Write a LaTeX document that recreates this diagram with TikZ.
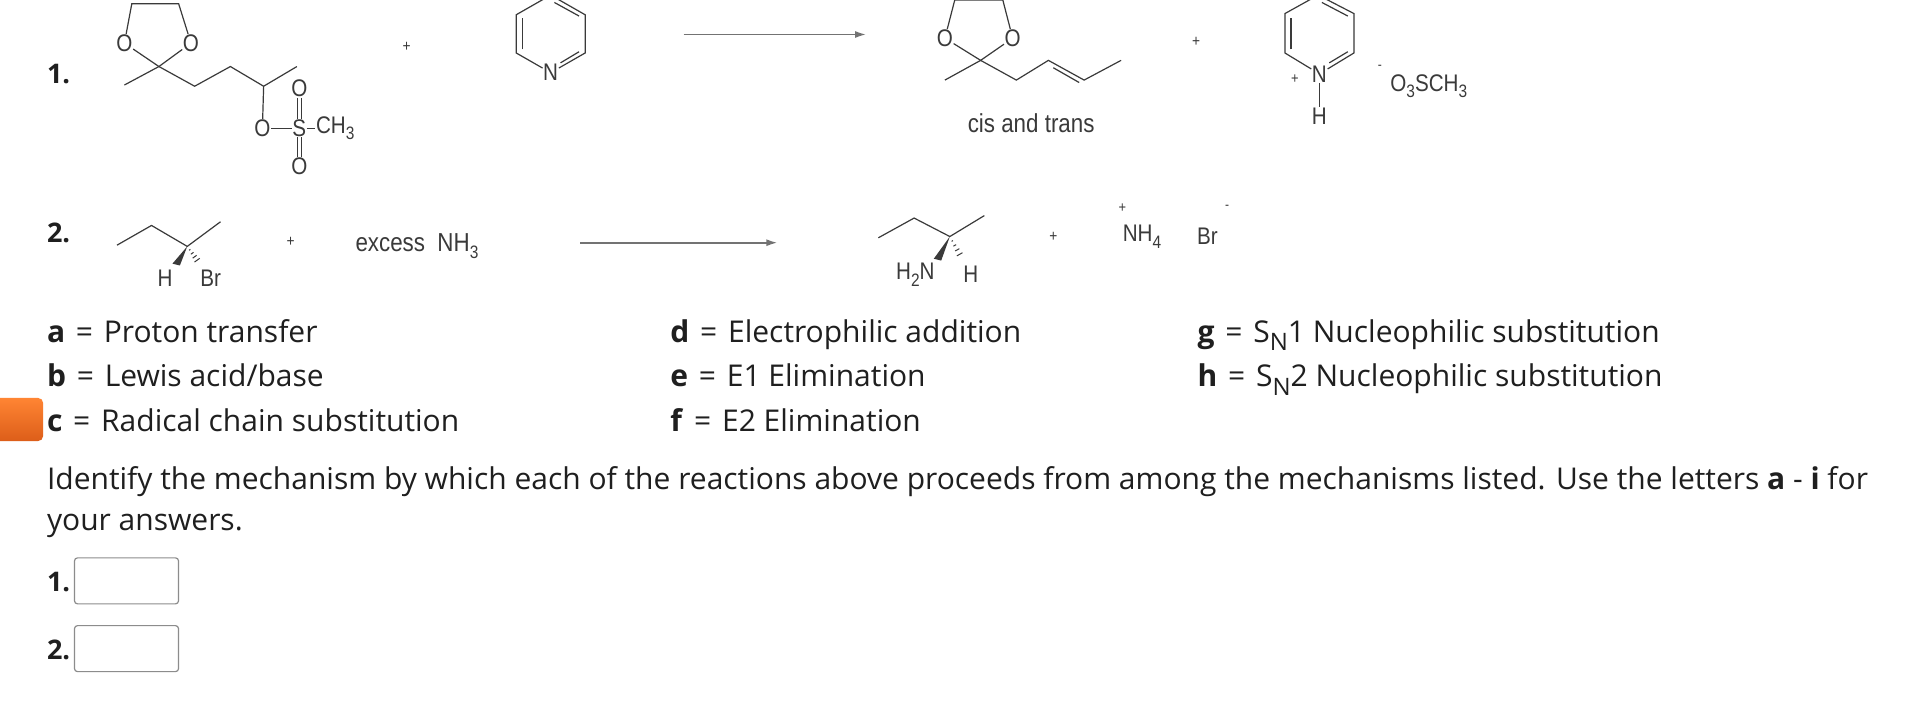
\documentclass[tikz,border=0pt]{standalone}
\usepackage{fontspec}
\setmainfont{Open Sans}
\newfontfamily\chem[FakeStretch=0.86]{Liberation Sans}
\usetikzlibrary{calc,arrows.meta}
\definecolor{bondc}{HTML}{3A3A3A}
\tikzset{
  bond/.style={draw=bondc,line width=1.2pt},
  atom/.style={inner sep=0.5pt,font=\chem\fontsize{24}{24}\selectfont,text=bondc},
  txt/.style={anchor=base west,inner sep=0pt,font=\fontsize{30}{30}\selectfont,text=black!88},
  rxarrow/.style={draw=black!55,line width=1.6pt,-{Latex[length=11pt,width=7pt]}},
  ansbox/.style={draw=black!45,line width=1.2pt,rounded corners=3pt,minimum width=104pt,minimum height=46pt,inner sep=0pt},
  num/.style={anchor=base west,inner sep=0pt,font=\bfseries\fontsize{27}{27}\selectfont,text=black!88}
}
\newcommand{\sub}[1]{\raisebox{-0.28em}{\fontsize{24}{24}\selectfont #1}}
\newcommand{\csub}[1]{\raisebox{-0.28em}{\fontsize{18}{18}\selectfont #1}}
\newcommand{\eq}{\hspace{0.36em}=\hspace{0.36em}}
\begin{document}
\begin{tikzpicture}[x=1.232pt,y=-1.232pt]
\useasboundingbox (0,0) rectangle (1565,576.3);
\fill[white] (0,0) rectangle (1565,576.3);
% ---------- Reaction 1 ----------
\node[num] (n1) at (38,68) {1.};
\coordinate (r1a) at (107,3); \coordinate (r1b) at (145,3);
\node[atom] (O1) at (101,35) {O}; \node[atom] (O2) at (155,35) {O};
\coordinate (Q1) at (129,54);
\coordinate (m1) at (101,69); \coordinate (c2) at (158,70); \coordinate (c3) at (187,54);
\coordinate (c4) at (214,70); \coordinate (c5) at (241,54);
\node[atom] (Om) at (213,104) {O};
\node[atom] (S) at (243,104) {S};
\node[atom] (Ot) at (243,72) {O};
\node[atom] (Ob) at (243,135) {O};
\node[atom,anchor=west] (CH) at (256,104) {CH\csub{3}};
\draw[bond] (O1) -- (r1a) -- (r1b) -- (O2);
\draw[bond] (O1) -- (Q1) -- (O2);
\draw[bond] (m1) -- (Q1) -- (c2) -- (c3) -- (c4) -- (c5);
\draw[bond] (c4) -- (Om); \draw[bond] (Om) -- (S); \draw[bond] (S) -- (CH.west);
\draw[bond] ([xshift=-2pt]Ot.south) -- ([xshift=-2pt]S.north) ([xshift=2pt]Ot.south) -- ([xshift=2pt]S.north);
\draw[bond] ([xshift=-2pt]Ob.north) -- ([xshift=-2pt]S.south) ([xshift=2pt]Ob.north) -- ([xshift=2pt]S.south);
\node[atom] (p1) at (330,38) {\fontsize{16}{16}\selectfont +};
% pyridine
\coordinate (P1) at (447,-4); \coordinate (P2) at (475,12); \coordinate (P3) at (475,43);
\node[atom] (PN) at (447,59) {N};
\coordinate (P5) at (419,43); \coordinate (P6) at (419,12);
\draw[bond] (PN) -- (P5) -- (P6) -- (P1) -- (P2) -- (P3) -- (PN);
\coordinate (P1i) at (450,2); \coordinate (P2i) at (470,13);
\draw[bond] (P1i) -- (P2i);
\coordinate (P5i) at (424,40); \coordinate (P6i) at (424,15);
\draw[bond] (P5i) -- (P6i);
\coordinate (P3i) at (470,42); \coordinate (PNi) at (455,51);
\draw[bond] (P3i) -- (PNi);
\coordinate (a1s) at (555,28); \coordinate (a1e) at (703,28);
\draw[rxarrow] (a1s) -- (a1e);
% product
\coordinate (s1a) at (775,0); \coordinate (s1b) at (814,0);
\node[atom] (O3) at (767,31) {O}; \node[atom] (O4) at (822,31) {O};
\coordinate (Q2) at (796,49);
\coordinate (m2) at (767,65); \coordinate (d2) at (825,65); \coordinate (d3) at (851,49);
\coordinate (d4) at (880,65); \coordinate (d5) at (910,49);
\draw[bond] (O3) -- (s1a) -- (s1b) -- (O4);
\draw[bond] (O3) -- (Q2) -- (O4);
\draw[bond] (m2) -- (Q2) -- (d2) -- (d3) -- (d4) -- (d5);
\coordinate (d3i) at (855,55); \coordinate (d4i) at (876,67);
\draw[bond] (d3i) -- (d4i);
\node[atom,font=\chem\fontsize{26}{26}\selectfont] (cis) at (837,100) {cis and trans};
\node[atom] (p2) at (971,34) {\fontsize{16}{16}\selectfont +};
% pyridinium
\coordinate (R1) at (1070,-4); \coordinate (R2) at (1099,11); \coordinate (R3) at (1099,43);
\node[atom] (RN) at (1071,60) {N};
\coordinate (R5) at (1043,43); \coordinate (R6) at (1043,11);
\node[atom] (RH) at (1071,94) {H};
\node[atom,font=\chem\fontsize{15}{15}\selectfont] (Rp) at (1051,64) {+};
\draw[bond] (RN) -- (R5) -- (R6) -- (R1) -- (R2) -- (R3) -- (RN);
\draw[bond] (RN) -- (RH);
\coordinate (R1i) at (1073,2); \coordinate (R2i) at (1094,13);
\draw[bond] (R1i) -- (R2i);
\coordinate (R5i) at (1048,40); \coordinate (R6i) at (1048,15);
\draw[bond] (R5i) -- (R6i);
\coordinate (R3i) at (1094,42); \coordinate (RNi) at (1079,51);
\draw[bond] (R3i) -- (RNi);
\node[atom] (mi1) at (1120,55) {\fontsize{14}{14}\selectfont -};
\node[atom,anchor=west] (ms) at (1128,70) {O\csub{3}SCH\csub{3}};
% ---------- Reaction 2 ----------
\node[num] (n2) at (38,197) {2.};
\coordinate (e1) at (95,199); \coordinate (e2) at (123,183); \coordinate (e3) at (152,200); \coordinate (e4) at (179,180);
\draw[bond] (e1) -- (e2) -- (e3) -- (e4);
\node[atom] (H1) at (134,226) {H}; \node[atom] (Br1) at (171,226) {Br};
\coordinate (w1) at (143,214); \coordinate (hb1) at (162,214);
\fill[bondc] (e3) -- ($(w1)+(-3,0)$) -- ($(w1)+(3,1.5)$) -- cycle;
\foreach \t [evaluate=\t as \w using \t*4] in {0.2,0.4,0.6,0.8,1.0}{
  \draw[bondc,line width=1pt] ($(e3)!\t!(hb1)!\w pt!90:(hb1)$) -- ($(e3)!\t!(hb1)!\w pt!-90:(hb1)$);}
\node[atom] (p3) at (236,196) {\fontsize{16}{16}\selectfont +};
\node[atom,anchor=west,font=\chem\fontsize{26}{26}\selectfont] (nh) at (288,200) {excess\ \ NH\csub{3}};
\coordinate (a2s) at (471,197); \coordinate (a2e) at (631,197);
\draw[rxarrow] (a2s) -- (a2e);
\coordinate (f1) at (713,193); \coordinate (f2) at (742,177); \coordinate (f3) at (771,192); \coordinate (f4) at (799,175);
\draw[bond] (f1) -- (f2) -- (f3) -- (f4);
\node[atom] (H2N) at (743,223) {H\csub{2}N}; \node[atom] (H2) at (788,223) {H};
\coordinate (w2) at (761,210); \coordinate (hb2) at (781,210);
\fill[bondc] (f3) -- ($(w2)+(-3,0)$) -- ($(w2)+(3,1.5)$) -- cycle;
\foreach \t [evaluate=\t as \w using \t*4] in {0.2,0.4,0.6,0.8,1.0}{
  \draw[bondc,line width=1pt] ($(f3)!\t!(hb2)!\w pt!90:(hb2)$) -- ($(f3)!\t!(hb2)!\w pt!-90:(hb2)$);}
\node[atom] (p4) at (855,192) {\fontsize{16}{16}\selectfont +};
\node[atom] (NH4) at (927,192) {NH\csub{4}};
\node[atom,font=\chem\fontsize{15}{15}\selectfont] (NHp) at (911,169) {+};
\node[atom] (Br2) at (980,192) {Br};
\node[atom] (Brm) at (996,168) {\fontsize{14}{14}\selectfont -};
% ---------- Text ----------
\shade[top color=orange!80!red!80!white, bottom color=orange!70!red!85!black!90, rounded corners=5pt] (-10,323) rectangle (35,358);
\node[txt] (ta) at (38,278) {\textbf{a}\eq Proton transfer};
\node[txt] (tb) at (38,314) {\textbf{b}\eq Lewis acid/base};
\node[txt] (tc) at (38,350) {\textbf{c}\eq Radical chain substitution};
\node[txt] (td) at (544,278) {\textbf{d}\eq Electrophilic addition};
\node[txt] (te) at (544,314) {\textbf{e}\eq E1 Elimination};
\node[txt] (tf) at (544,350) {\textbf{f}\eq E2 Elimination};
\node[txt] (tg) at (972,278) {\textbf{g}\eq S\sub{N}1 Nucleophilic substitution};
\node[txt] (th) at (972,314) {\textbf{h}\eq S\sub{N}2 Nucleophilic substitution};
\node[txt] (q1) at (38,397) {Identify the mechanism by which each of the reactions above proceeds from among the mechanisms listed. Use the letters \textbf{a} - \textbf{i} for};
\node[txt] (q2) at (38,431) {your answers.};
\node[num] (l1) at (38,480) {1.};
\node[ansbox,anchor=west] (b1) at (60,471.5) {};
\node[num] (l2) at (38,535) {2.};
\node[ansbox,anchor=west] (b2) at (60,526.5) {};
\end{tikzpicture}
\end{document}
